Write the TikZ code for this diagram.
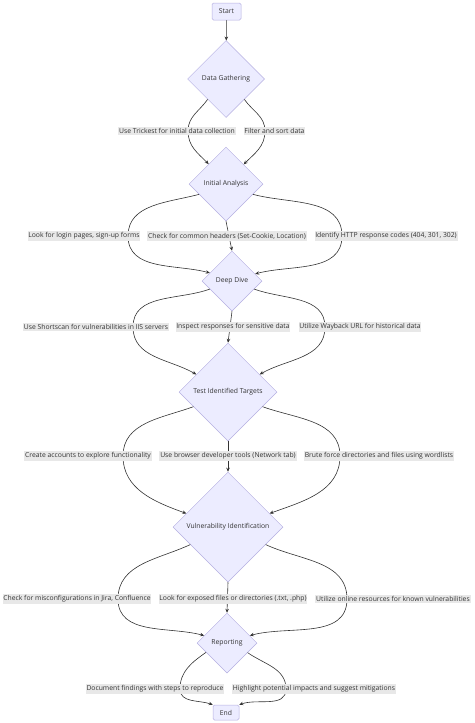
\documentclass[tikz,border=0pt]{standalone}
\usepackage{fontspec}
\setmainfont{Open Sans}
\usetikzlibrary{arrows.meta, shapes.geometric}

\definecolor{nodefill}{HTML}{ECECFF}
\definecolor{nodeline}{HTML}{B4AEE0}
\definecolor{edgeline}{HTML}{333333}
\definecolor{labelbg}{HTML}{E8E8E8}
\definecolor{textcol}{HTML}{333333}

\begin{document}
\begin{tikzpicture}[
x=1pt, y=1pt,
>={Stealth[length=4pt,width=3.5pt]},
every node/.style={font=\fontsize{6.8}{8}\selectfont, text=textcol},
decision/.style={diamond, aspect=1, draw=nodeline, fill=nodefill, line width=0.5pt, inner sep=0pt},
terminal/.style={rectangle, rounded corners=1.5pt, draw=nodeline, fill=nodefill, line width=0.5pt},
flow/.style={->, draw=edgeline, line width=0.6pt},
edgelabel/.style={fill=labelbg, inner xsep=0.8pt, inner ysep=1.4pt}
]

\useasboundingbox (0,0) rectangle (474,-723);

% steps
\node (start) [terminal, minimum width=29pt, minimum height=17pt] at (226.5,-11.5) {Start};
\node (gather) [decision, minimum size=77pt] at (226,-79) {Data Gathering};
\node (analysis) [decision, minimum size=74pt] at (226,-184) {Initial Analysis};
\node (dive) [decision, minimum size=60pt] at (232,-281) {Deep Dive};
\node (targets) [decision, minimum size=98pt] at (228,-392) {Test Identified Targets};
\node (vuln) [decision, minimum size=110pt] at (228,-527) {Vulnerability Identification};
\node (report) [decision, minimum size=60pt] at (227,-643) {Reporting};
\node (end) [terminal, minimum width=26pt, minimum height=15pt] at (226,-712.5) {End};

% bends of the curved links
\coordinate (w1a) at (188,-131);
\coordinate (w1b) at (265,-131);
\coordinate (w2a) at (128,-236);
\coordinate (w2b) at (342,-236);
\coordinate (w3a) at (133,-327);
\coordinate (w3b) at (325,-327);
\coordinate (w4a) at (123,-456);
\coordinate (w4b) at (340,-456);
\coordinate (w5a) at (118,-599);
\coordinate (w5b) at (347,-599);
\coordinate (w6a) at (180,-689);
\coordinate (w6b) at (286,-689);

\draw[flow] (start) -- (gather);

\draw[flow] (gather.228) to[out=235,in=90] (w1a) to[out=-90,in=135] (analysis.131);
\draw[flow] (gather.312) to[out=-55,in=90] (w1b) to[out=-90,in=45] (analysis.48);

\draw[flow] (analysis.201) to[out=195,in=90] (w2a) to[out=-90,in=165] (dive.160);
\draw[flow] (analysis.south) -- (dive.north);
\draw[flow] (analysis.339) to[out=-15,in=90] (w2b) to[out=-90,in=15] (dive.17);

\draw[flow] (dive.200) to[out=200,in=90] (w3a) to[out=-90,in=150] (targets.151);
\draw[flow] (dive.south) -- (targets.north);
\draw[flow] (dive.340) to[out=-20,in=90] (w3b) to[out=-90,in=30] (targets.29);

\draw[flow] (targets.203) to[out=200,in=90] (w4a) to[out=-90,in=160] (vuln.162);
\draw[flow] (targets.south) -- (vuln.north);
\draw[flow] (targets.337) to[out=-20,in=90] (w4b) to[out=-90,in=20] (vuln.18);

\draw[flow] (vuln.205) to[out=205,in=90] (w5a) to[out=-90,in=165] (report.162);
\draw[flow] (vuln.south) -- (report.north);
\draw[flow] (vuln.335) to[out=-25,in=90] (w5b) to[out=-90,in=15] (report.18);

\draw[flow] (report.204) to[out=215,in=90] (w6a) to[out=-90,in=160] (end.north west);
\draw[flow] (report.335) to[out=-35,in=90] (w6b) to[out=-90,in=20] (end.north east);

% link texts
\node (l1a) [edgelabel] at (177,-131) {Use Trickest for initial data collection};
\node (l1b) [edgelabel] at (274.5,-131) {Filter and sort data};
\node (l2a) [edgelabel] at (84,-236) {Look for login pages, sign-up forms};
\node (l2b) [edgelabel] at (227,-236) {Check for common headers (Set-Cookie, Location)};
\node (l2c) [edgelabel] at (386,-236) {Identify HTTP response codes (404, 301, 302)};
\node (l3a) [edgelabel] at (96,-327) {Use Shortscan for vulnerabilities in IIS servers};
\node (l3b) [edgelabel] at (233,-327) {Inspect responses for sensitive data};
\node (l3c) [edgelabel] at (360,-327) {Utilize Wayback URL for historical data};
\node (l4a) [edgelabel] at (88,-456) {Create accounts to explore functionality};
\node (l4b) [edgelabel] at (228,-456) {Use browser developer tools (Network tab)};
\node (l4c) [edgelabel] at (379,-456) {Brute force directories and files using wordlists};
\node (l5a) [edgelabel] at (77,-599) {Check for misconfigurations in Jira, Confluence};
\node (l5b) [edgelabel] at (233,-599) {Look for exposed files or directories (.txt, .php)};
\node (l5c) [edgelabel] at (393,-599) {Utilize online resources for known vulnerabilities};
\node (l6a) [edgelabel] at (155,-689) {Document findings with steps to reproduce};
\node (l6b) [edgelabel] at (314,-689) {Highlight potential impacts and suggest mitigations};

\end{tikzpicture}
\end{document}
